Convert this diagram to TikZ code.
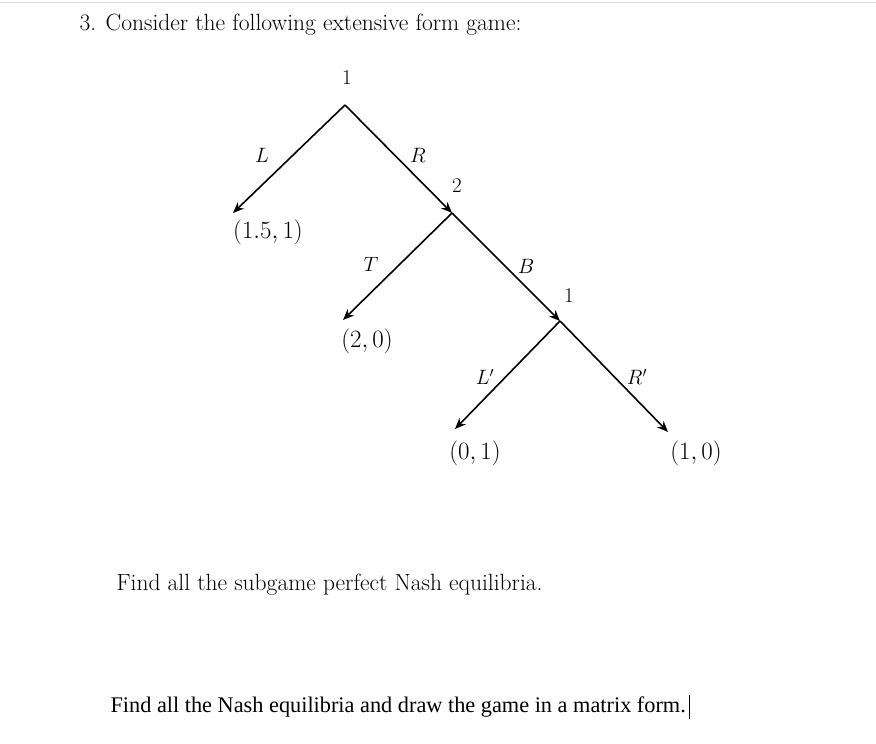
\documentclass[tikz,border=0pt]{standalone}
\usepackage{fontspec}
\newfontfamily\timesf{Liberation Serif}
\usetikzlibrary{arrows.meta}
\begin{document}
\begin{tikzpicture}[x=1pt,y=-1pt,
  br/.style={line width=1.6pt,-{Stealth[length=11pt,width=9pt]}},
  lab/.style={font=\fontsize{21}{24}\selectfont},
  pay/.style={font=\fontsize{23}{26}\selectfont}]
\useasboundingbox (0,0) rectangle (876,744);
\draw[gray!30] (0,2) -- (876,2);
\node[anchor=west,font=\fontsize{23.5}{26}\selectfont] (title) at (76,25) {3. Consider the following extensive form game:};
\coordinate (n1) at (345,105);
\coordinate (l1) at (233,213);
\coordinate (n2) at (452,213);
\coordinate (t1) at (343,320);
\coordinate (n3) at (560,321);
\coordinate (l2) at (455,429);
\coordinate (r2) at (668,432);
\draw[br] (n1) -- (l1);
\draw[br] (n1) -- (n2);
\draw[br] (n2) -- (t1);
\draw[br] (n2) -- (n3);
\draw[br] (n3) -- (l2);
\draw[br] (n3) -- (r2);
\node[lab] (p1) at (347,78) {1};
\node[lab] (p2) at (457,186) {2};
\node[lab] (p3) at (569,296) {1};
\node[lab] (L) at (262,155) {$L$};
\node[lab] (R) at (418,155) {$R$};
\node[lab] (T) at (371,264) {$T$};
\node[lab] (B) at (526,266) {$B$};
\node[lab] (Lp) at (485,377) {$L'$};
\node[lab] (Rp) at (637,377) {$R'$};
\node[pay] (a) at (268,232) {$(1.5,1)$};
\node[pay] (b) at (367,341) {$(2,0)$};
\node[pay] (c) at (475,453) {$(0,1)$};
\node[pay] (d) at (696,453) {$(1,0)$};
\node[anchor=west,font=\fontsize{23.5}{26}\selectfont] (q1) at (113,585) {Find all the subgame perfect Nash equilibria.};
\node[anchor=west,font=\timesf\fontsize{22.3}{25}\selectfont] (q2) at (107,707) {Find all the Nash equilibria and draw the game in a matrix form.};
\draw[line width=0.8pt] (q2.east) ++(0,-12) -- ++(0,24);
\end{tikzpicture}
\end{document}
